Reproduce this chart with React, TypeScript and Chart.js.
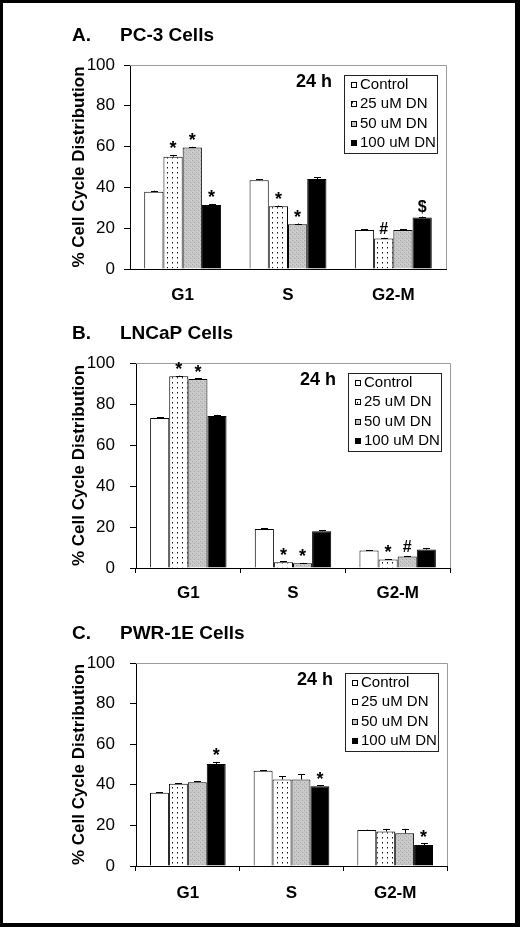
import React, { useEffect, useRef } from "react";
import { Chart, registerables } from "chart.js";

Chart.register(...registerables);

const FONT = "'Liberation Sans', Arial, Helvetica, sans-serif";
Chart.defaults.font.family = FONT;

// ---------- shared labels ----------
const categories = ["G1", "S", "G2-M"];
const seriesLabels = ["Control", "25 uM DN", "50 uM DN", "100 uM DN"];
const yTicks = [0, 20, 40, 60, 80, 100];
const yAxisTitle = "% Cell Cycle Distribution";
const timeLabel = "24 h";

// ---------- Panel A: PC-3 ----------
const pc3Control = [37.9, 43.5, 19.1];
const pc3Dn25 = [55.0, 30.7, 14.9];
const pc3Dn50 = [59.6, 21.9, 19.1];
const pc3Dn100 = [31.4, 44.1, 25.3];
const pc3ControlErr = [0.5, 0.5, 0.4];
const pc3Dn25Err = [0.9, 0.4, 0.4];
const pc3Dn50Err = [0.3, 0.4, 0.4];
const pc3Dn100Err = [0.5, 1.0, 0.4];
const pc3ControlMarks = ["", "", ""];
const pc3Dn25Marks = ["*", "*", "#"];
const pc3Dn50Marks = ["*", "*", ""];
const pc3Dn100Marks = ["*", "", "$"];

// ---------- Panel B: LNCaP ----------
const lncapControl = [73.2, 19.0, 8.5];
const lncapDn25 = [93.5, 2.8, 4.1];
const lncapDn50 = [92.2, 2.3, 5.6];
const lncapDn100 = [74.1, 17.9, 9.0];
const lncapControlErr = [0.4, 0.5, 0.3];
const lncapDn25Err = [0.3, 0.6, 0.3];
const lncapDn50Err = [0.3, 0.2, 0.3];
const lncapDn100Err = [0.6, 0.4, 0.8];
const lncapControlMarks = ["", "", ""];
const lncapDn25Marks = ["*", "*", "*"];
const lncapDn50Marks = ["*", "*", "#"];
const lncapDn100Marks = ["", "", ""];

// ---------- Panel C: PWR-1E ----------
const pwrControl = [36.1, 46.9, 17.7];
const pwrDn25 = [40.5, 42.6, 17.0];
const pwrDn50 = [41.3, 42.6, 16.1];
const pwrDn100 = [50.3, 39.3, 10.3];
const pwrControlErr = [0.3, 0.4, 0.2];
const pwrDn25Err = [0.2, 1.7, 1.3];
const pwrDn50Err = [0.5, 2.5, 2.2];
const pwrDn100Err = [1.0, 0.6, 0.8];
const pwrControlMarks = ["", "", ""];
const pwrDn25Marks = ["", "", ""];
const pwrDn50Marks = ["", "", ""];
const pwrDn100Marks = ["*", "*", "*"];

type PanelCfg = {
  letter: string;
  name: string;
  values: number[][];
  errors: number[][];
  marks: string[][];
  canvasTop: number;
  canvasHeight: number;
  plotLeft: number;
  plotRight: number;
  plotTop: number;
  plotBottom: number;
  xTickColor: string;
  xLabelPad: number;
};

const panels: PanelCfg[] = [
  {
    letter: "A.",
    name: "PC-3 Cells",
    values: [pc3Control, pc3Dn25, pc3Dn50, pc3Dn100],
    errors: [pc3ControlErr, pc3Dn25Err, pc3Dn50Err, pc3Dn100Err],
    marks: [pc3ControlMarks, pc3Dn25Marks, pc3Dn50Marks, pc3Dn100Marks],
    canvasTop: 0,
    canvasHeight: 305,
    plotLeft: 130,
    plotRight: 446,
    plotTop: 65,
    plotBottom: 269,
    xTickColor: "rgba(0,0,0,0)",
    xLabelPad: 11,
  },
  {
    letter: "B.",
    name: "LNCaP Cells",
    values: [lncapControl, lncapDn25, lncapDn50, lncapDn100],
    errors: [lncapControlErr, lncapDn25Err, lncapDn50Err, lncapDn100Err],
    marks: [lncapControlMarks, lncapDn25Marks, lncapDn50Marks, lncapDn100Marks],
    canvasTop: 305,
    canvasHeight: 305,
    plotLeft: 136,
    plotRight: 450,
    plotTop: 363,
    plotBottom: 568,
    xTickColor: "#000",
    xLabelPad: 10,
  },
  {
    letter: "C.",
    name: "PWR-1E Cells",
    values: [pwrControl, pwrDn25, pwrDn50, pwrDn100],
    errors: [pwrControlErr, pwrDn25Err, pwrDn50Err, pwrDn100Err],
    marks: [pwrControlMarks, pwrDn25Marks, pwrDn50Marks, pwrDn100Marks],
    canvasTop: 610,
    canvasHeight: 317,
    plotLeft: 136,
    plotRight: 447,
    plotTop: 663,
    plotBottom: 866,
    xTickColor: "#000",
    xLabelPad: 12,
  },
];

function makeDots(): CanvasPattern | string {
  const c = document.createElement("canvas");
  c.width = 5;
  c.height = 5;
  const g = c.getContext("2d");
  if (!g) return "#fff";
  g.fillStyle = "#fff";
  g.fillRect(0, 0, 5, 5);
  g.fillStyle = "#111";
  g.fillRect(2, 2, 1, 1);
  g.fillStyle = "#888";
  g.fillRect(2, 3, 1, 1);
  const p = g.createPattern(c, "repeat");
  return p || "#fff";
}

function makeGray(): CanvasPattern | string {
  const c = document.createElement("canvas");
  c.width = 4;
  c.height = 4;
  const g = c.getContext("2d");
  if (!g) return "#c4c4c4";
  g.fillStyle = "#c6c6c6";
  g.fillRect(0, 0, 4, 4);
  g.fillStyle = "#a9a9a9";
  g.fillRect(0, 0, 1, 1);
  g.fillRect(2, 2, 1, 1);
  g.fillStyle = "#d4d4d4";
  g.fillRect(3, 0, 1, 1);
  g.fillRect(1, 3, 1, 1);
  const p = g.createPattern(c, "repeat");
  return p || "#c4c4c4";
}

function Panel({ cfg }: { cfg: PanelCfg }) {
  const ref = useRef<HTMLCanvasElement>(null);

  useEffect(() => {
    const canvas = ref.current;
    if (!canvas) return;
    const fills = ["#ffffff", makeDots(), makeGray(), "#000000"];

    const decor = {
      id: "decor" + cfg.letter,
      beforeDatasetsDraw(chart: any) {
        const { ctx, chartArea: a } = chart;
        ctx.save();
        ctx.strokeStyle = "#9c9c9c";
        ctx.lineWidth = 1;
        ctx.beginPath();
        ctx.moveTo(Math.round(a.left), Math.round(a.top) + 0.5);
        ctx.lineTo(Math.round(a.right) + 0.5, Math.round(a.top) + 0.5);
        ctx.lineTo(Math.round(a.right) + 0.5, Math.round(a.bottom));
        ctx.stroke();
        ctx.restore();
      },
      afterDatasetsDraw(chart: any) {
        const { ctx } = chart;
        const yScale = chart.scales.y;
        ctx.save();
        chart.data.datasets.forEach((ds: any, i: number) => {
          const meta = chart.getDatasetMeta(i);
          meta.data.forEach((bar: any, j: number) => {
            const v = ds.data[j];
            const e = cfg.errors[i][j];
            const yTop = yScale.getPixelForValue(v + e);
            const x = Math.round(bar.x) + 0.5;
            ctx.strokeStyle = "#000";
            ctx.lineWidth = 1;
            ctx.beginPath();
            ctx.moveTo(x, bar.y);
            ctx.lineTo(x, yTop);
            ctx.moveTo(x - 3.5, Math.round(yTop) + 0.5);
            ctx.lineTo(x + 3.5, Math.round(yTop) + 0.5);
            ctx.stroke();
            const mark = cfg.marks[i][j];
            if (mark) {
              ctx.font = mark === "*" ? `bold 18px ${FONT}` : `bold 16px ${FONT}`;
              ctx.textAlign = "center";
              ctx.textBaseline = "alphabetic";
              const m = ctx.measureText(mark);
              const asc = m.actualBoundingBoxAscent || 10;
              const desc = m.actualBoundingBoxDescent || 0;
              const cy = yTop - 10;
              ctx.fillStyle = "#000";
              ctx.fillText(mark, bar.x, cy + (asc - desc) / 2);
            }
          });
        });
        ctx.restore();
      },
      afterDraw(chart: any) {
        const { ctx, chartArea: a } = chart;
        ctx.save();
        // Panel title
        ctx.fillStyle = "#000";
        ctx.font = `bold 19px ${FONT}`;
        ctx.textAlign = "left";
        ctx.textBaseline = "middle";
        ctx.fillText(cfg.letter, 72, a.top - 29.5);
        ctx.fillText(cfg.name, 120, a.top - 29.5);

        // Legend box
        const bw = 93;
        const bh = 78;
        const bx = Math.round(a.right - 9 - bw);
        const by = Math.round(a.top + 10);
        ctx.fillStyle = "#fff";
        ctx.fillRect(bx, by, bw, bh);
        ctx.strokeStyle = "#222";
        ctx.lineWidth = 1;
        ctx.strokeRect(bx + 0.5, by + 0.5, bw, bh);
        chart.data.datasets.forEach((ds: any, i: number) => {
          const cy = by + 9.5 + i * 19.3;
          const mx = bx + 7;
          const my = Math.round(cy - 2.5);
          ctx.fillStyle = ds.backgroundColor;
          ctx.fillRect(mx, my, 5, 5);
          ctx.strokeStyle = "#000";
          ctx.strokeRect(mx + 0.5, my + 0.5, 5, 5);
          ctx.fillStyle = "#000";
          ctx.font = `15px ${FONT}`;
          ctx.textAlign = "left";
          ctx.textBaseline = "middle";
          ctx.fillText(ds.label, bx + 16, cy + 0.5);
        });

        // time label
        ctx.font = `bold 18px ${FONT}`;
        ctx.textAlign = "right";
        ctx.textBaseline = "middle";
        ctx.fillStyle = "#000";
        ctx.fillText(timeLabel, bx - 12, a.top + 17);
        ctx.restore();
      },
    };

    const xHeight = cfg.canvasHeight - (cfg.plotBottom - cfg.canvasTop);

    const chart = new Chart(canvas, {
      type: "bar",
      data: {
        labels: categories,
        datasets: seriesLabels.map((label, i) => ({
          label,
          data: cfg.values[i],
          backgroundColor: fills[i] as any,
          borderColor: "#000",
          borderWidth: 1,
          borderSkipped: "bottom",
          categoryPercentage: 0.73,
          barPercentage: 1.0,
        })),
      },
      options: {
        animation: false,
        responsive: true,
        maintainAspectRatio: false,
        layout: {
          padding: {
            top: cfg.plotTop - cfg.canvasTop,
            left: 0,
            right: 520 - cfg.plotRight,
            bottom: 0,
          },
        },
        plugins: {
          legend: { display: false },
          tooltip: { enabled: false },
          title: { display: false },
        },
        scales: {
          x: {
            afterFit: (s: any) => {
              s.height = xHeight;
            },
            ticks: {
              font: { size: 17, weight: "bold", lineHeight: 1.2 },
              color: "#000",
              padding: cfg.xLabelPad,
            },
            grid: {
              display: true,
              drawOnChartArea: false,
              drawTicks: true,
              tickLength: 5,
              color: cfg.xTickColor,
              offset: true,
            },
            border: { display: true, color: "#000", width: 1 },
          },
          y: {
            min: 0,
            max: 100,
            afterFit: (s: any) => {
              s.width = cfg.plotLeft;
            },
            afterBuildTicks: (s: any) => {
              s.ticks = yTicks.map((v) => ({ value: v }));
            },
            ticks: {
              font: { size: 17, lineHeight: 1.2 },
              color: "#000",
              padding: cfg.plotLeft - 6 - 115,
            },
            grid: {
              display: true,
              drawOnChartArea: false,
              drawTicks: true,
              tickLength: 6,
              color: "#000",
            },
            border: { display: true, color: "#000", width: 1 },
            title: {
              display: true,
              text: yAxisTitle,
              color: "#000",
              font: { size: 17, weight: "bold", lineHeight: 1.2 },
              padding: { top: 69, bottom: 0 },
            },
          },
        },
      },
      plugins: [decor],
    } as any);

    return () => chart.destroy();
  }, [cfg]);

  return (
    <div
      style={{
        position: "absolute",
        left: 0,
        top: cfg.canvasTop,
        width: 520,
        height: cfg.canvasHeight,
      }}
    >
      <canvas ref={ref} />
    </div>
  );
}

export default function App() {
  return (
    <div
      style={{
        position: "absolute",
        left: 0,
        top: 0,
        width: 520,
        height: 927,
        background: "#fff",
        overflow: "hidden",
      }}
    >
      {panels.map((p) => (
        <Panel key={p.letter} cfg={p} />
      ))}
      <div
        style={{
          position: "absolute",
          left: 0,
          top: 0,
          width: 520,
          height: 927,
          boxSizing: "border-box",
          borderStyle: "solid",
          borderColor: "#000",
          borderWidth: "3px 5px 4px 3px",
          pointerEvents: "none",
        }}
      />
    </div>
  );
}
